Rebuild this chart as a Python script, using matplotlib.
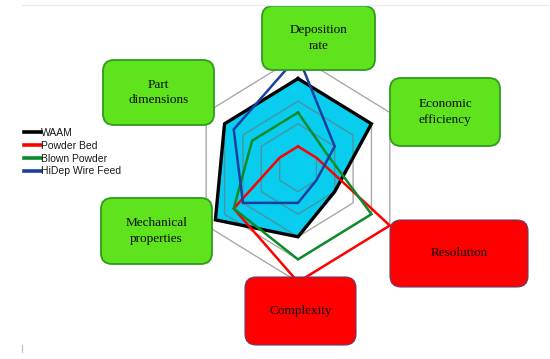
import numpy as np
import matplotlib
matplotlib.use("Agg")
import matplotlib.pyplot as plt
from matplotlib.patches import FancyBboxPatch
from matplotlib.lines import Line2D

# ---------------- data ----------------
categories = ["Deposition\nrate", "Economic\nefficiency", "Resolution",
              "Complexity", "Mechanical\nproperties", "Part\ndimensions"]
series_names = ["WAAM", "Powder Bed", "Blown Powder", "HiDep Wire Feed"]
waam = [4, 4, 2, 3, 4.5, 4]
powder_bed = [1, 1, 5, 5, 3.5, 1]
blown_powder = [2.5, 1.5, 4, 4, 3.5, 2.5]
hidep_wire_feed = [5, 2, 1, 1.5, 3, 3.5]
grid_levels = [1, 2, 3, 4, 5]
category_kind = ["good", "good", "bad", "bad", "good", "good"]

# ---------------- styles ----------------
angles = np.deg2rad([90, 30, -30, -90, -150, 150])
series_values = [waam, powder_bed, blown_powder, hidep_wire_feed]
series_colors = ["#000000", "#ff0000", "#0a8c2a", "#1a3fa0"]
series_lw = [2.4, 1.8, 1.8, 1.8]

# box extents in pixel coords (x0, y0, x1, y1), top-left origin
box_extents = [(262, 6, 375, 70), (390, 78, 500, 146), (390, 220, 528, 287),
               (245, 277, 356, 345), (101, 198, 212, 264), (103, 60, 214, 125)]

W, H = 550, 359
fig = plt.figure(figsize=(W / 100, H / 100), dpi=100)
fig.patch.set_facecolor("white")

# radar axes: center at pixel (298,169); unit = 21.2 px horizontally, 22.6 px vertically
cx, cy, ux, uy = 298, 169, 21.2, 22.6
ax = fig.add_axes([0, 0, 1, 1])
ax.set_xlim(-cx / ux, (W - cx) / ux)
ax.set_ylim(-(H - cy) / uy, cy / uy)
ax.axis("off")


def closed_xy(vals):
    v = np.asarray(vals, dtype=float)
    x = v * np.cos(angles)
    y = v * np.sin(angles)
    return np.append(x, x[0]), np.append(y, y[0])


# WAAM fill
xw, yw = closed_xy(waam)
ax.fill(xw, yw, color="#08cdef", zorder=1)

# hexagonal grid
for lv in grid_levels:
    gx, gy = closed_xy([lv] * 6)
    ax.plot(gx, gy, color="#707070", alpha=0.6, lw=1.0, zorder=2)

# series outlines
for vals, col, lw in zip(series_values, series_colors, series_lw):
    sx, sy = closed_xy(vals)
    ax.plot(sx, sy, color=col, lw=lw, zorder=3, solid_joinstyle="miter")

# overlay axes for label boxes (pixel coordinates)
ov = fig.add_axes([0, 0, 1, 1], zorder=5)
ov.set_xlim(0, W)
ov.set_ylim(H, 0)
ov.axis("off")
ov.patch.set_alpha(0)

# faint frame remnants
ov.plot([22, 550], [5, 5], color="#e6edf7", lw=1)
ov.plot([22, 22], [345, 352], color="#bbbbbb", lw=0.8)

for label, kind, (x0, y0, x1, y1) in zip(categories, category_kind, box_extents):
    if kind == "good":
        fc, ec, elw = "#5ee31c", "#2f9a1e", 1.3
    else:
        fc, ec, elw = "#ff0000", "#6a3a6a", 0.8
    box = FancyBboxPatch((x0, y0), x1 - x0, y1 - y0,
                         boxstyle="round,pad=0,rounding_size=11",
                         facecolor=fc, edgecolor=ec, lw=elw)
    ov.add_patch(box)
    ov.text((x0 + x1) / 2, (y0 + y1) / 2, label, ha="center", va="center",
            fontsize=9.5, family="Liberation Serif", color="#0a0a0a",
            linespacing=1.35)

# legend
handles = [Line2D([0], [0], color=c, lw=2.6) for c in series_colors]
leg = ov.legend(handles, series_names, loc="upper left",
                bbox_to_anchor=(24, 128), bbox_transform=ov.transData,
                frameon=False, borderpad=0, borderaxespad=0,
                handlelength=1.6, handletextpad=0.05, labelspacing=0.27,
                prop={"family": "Liberation Sans", "size": 7.5})
for t in leg.get_texts():
    t.set_color("#1a1a1a")

fig.savefig("out.png", dpi=100, facecolor="white")
